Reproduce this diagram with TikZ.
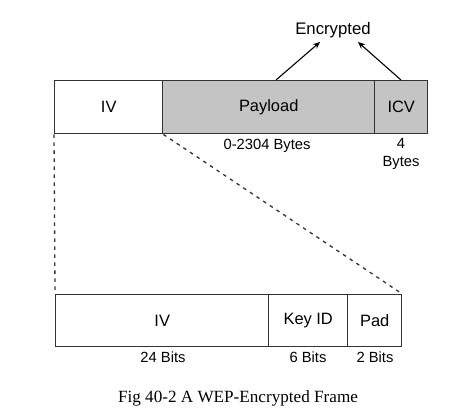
\documentclass[tikz,border=0pt]{standalone}
\usepackage{fontspec}
\usetikzlibrary{arrows.meta}
\setmainfont{Liberation Sans}
\newfontfamily\capfont{Liberation Serif}
\definecolor{fillgray}{HTML}{C4C4C4}
\definecolor{linegray}{HTML}{333333}
\begin{document}
\begin{tikzpicture}[x=1bp,y=-1bp,
  field/.style={draw=linegray,line width=1.4bp,minimum height=53bp,inner sep=0pt,anchor=north west,font=\fontsize{16.5}{18}\selectfont},
  lowfield/.style={draw=linegray,line width=1.4bp,minimum height=52bp,inner sep=0pt,anchor=north west,font=\fontsize{16.5}{18}\selectfont},
  enc/.style={fill=fillgray},
  lbl/.style={font=\fontsize{14.8}{17}\selectfont,inner sep=0pt},
  zoomline/.style={draw=linegray,line width=1.3bp,dash pattern=on 3.5bp off 4.5bp},
  arr/.style={draw=black,line width=1.1bp,-{Stealth[length=7bp,width=6bp]}}
]
\useasboundingbox (0,0) rectangle (475,413);
% top frame
\node[field,minimum width=108bp] (iv) at (54,80) {IV};
\node[field,enc,minimum width=212bp] (pay) at (162,80) {Payload};
\node[field,enc,minimum width=53bp] (icv) at (374,80) {ICV};
% labels
\node[lbl] (paylbl) at (267,146) {0-2304 Bytes};
\node[lbl,align=center,font=\fontsize{14.8}{18}\selectfont] (icvlbl) at (401,154) {4\\Bytes};
\node[inner sep=0pt,font=\fontsize{16.8}{18}\selectfont] (enc) at (333,30) {Encrypted};
\coordinate (ea) at (320,42);
\coordinate (eb) at (358,42);
\coordinate (pa) at (276,80);
\coordinate (ia) at (401,80);
\draw[arr] (pa) -- (ea);
\draw[arr] (ia) -- (eb);
% bottom frame
\node[lowfield,minimum width=213bp] (iv2) at (55,294) {IV};
\node[lowfield,minimum width=79bp] (key) at (268,294) {Key ID};
\node[lowfield,minimum width=54bp] (pad) at (347,294) {Pad};
\node[lbl] (b24) at (163,357) {24 Bits};
\node[lbl] (b6) at (308,357) {6 Bits};
\node[lbl] (b2) at (375,357) {2 Bits};
% zoom lines
\draw[zoomline] (iv.south west) -- (iv2.north west);
\draw[zoomline] (iv.south east) -- (pad.north east);
% caption
\node[inner sep=0pt,font=\capfont\fontsize{17.2}{19}\selectfont] (cap) at (238,398) {Fig 40-2 A WEP-Encrypted Frame};
\end{tikzpicture}
\end{document}
